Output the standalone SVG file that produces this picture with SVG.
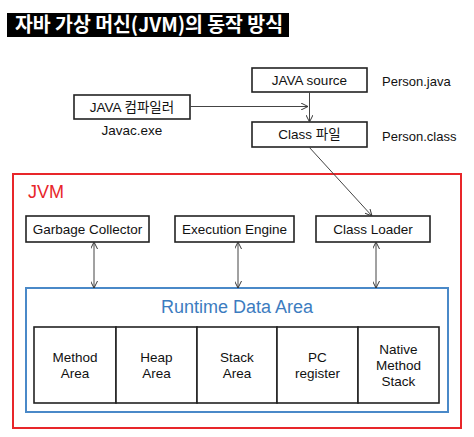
<svg xmlns="http://www.w3.org/2000/svg" width="474" height="437" viewBox="0 0 474 437">
<defs>
<marker id="ah" viewBox="0 0 10 10" refX="10" refY="5" markerWidth="7" markerHeight="7" orient="auto-start-reverse" markerUnits="userSpaceOnUse">
<path d="M0,0 L10,5 L0,10" fill="none" stroke="#333" stroke-width="1.4"/>
</marker>
<style>
text{font-family:"Liberation Sans","Noto Sans CJK KR",sans-serif;fill:#111}
.box{fill:#fff;stroke:#222;stroke-width:1.6}
.lbl{font-size:13.5px;text-anchor:middle}
.side{font-size:13px}
.cell{font-size:13.5px;text-anchor:middle}
.conn{stroke:#444;stroke-width:1;fill:none}
</style>
</defs>
<rect width="474" height="437" fill="#fff"/>
<g id="title">
<rect x="7" y="13" width="282" height="24" fill="#000"/>
<text x="15" y="32" textLength="268" lengthAdjust="spacingAndGlyphs" style="font-family:'Noto Sans CJK KR','Liberation Sans',sans-serif;font-size:20px;font-weight:bold;fill:#fff">자바 가상 머신(JVM)의 동작 방식</text>
</g>
<g id="jvm">
<rect x="13" y="174" width="448" height="254" fill="none" stroke="#e8262a" stroke-width="2"/>
<text x="28" y="198" style="font-size:18px;fill:#e8262a">JVM</text>
</g>
<g id="java-source">
<rect class="box" x="252" y="68" width="115" height="24"/>
<text class="lbl" x="309.5" y="85">JAVA source</text>
<text class="side" x="382" y="86">Person.java</text>
</g>
<g id="javac">
<rect class="box" x="74" y="95" width="116" height="24"/>
<text class="lbl" x="132" y="112">JAVA 컴파일러</text>
<text class="lbl" x="132" y="135">Javac.exe</text>
</g>
<g id="class-file">
<rect class="box" x="252" y="122" width="115" height="25"/>
<text class="lbl" x="309.5" y="139">Class 파일</text>
<text class="side" x="382" y="141">Person.class</text>
</g>
<g id="gc">
<rect class="box" x="26" y="216" width="123" height="26"/>
<text class="lbl" x="87.5" y="234">Garbage Collector</text>
</g>
<g id="exec">
<rect class="box" x="175" y="216" width="119" height="26"/>
<text class="lbl" x="234.5" y="234">Execution Engine</text>
</g>
<g id="loader">
<rect class="box" x="316" y="216" width="114" height="26"/>
<text class="lbl" x="373" y="234">Class Loader</text>
</g>
<g id="rda">
<rect x="26" y="288" width="422" height="124" fill="none" stroke="#4a89c8" stroke-width="2"/>
<text x="237" y="313" style="font-size:18px;fill:#3c7cc0" text-anchor="middle">Runtime Data Area</text>
</g>
<g id="method-area">
<rect class="box" x="34" y="327" width="82" height="76"/>
<text class="cell" x="75" y="362">Method</text>
<text class="cell" x="75" y="378">Area</text>
</g>
<g id="heap-area">
<rect class="box" x="116" y="327" width="81" height="76"/>
<text class="cell" x="156.5" y="362">Heap</text>
<text class="cell" x="156.5" y="378">Area</text>
</g>
<g id="stack-area">
<rect class="box" x="197" y="327" width="80" height="76"/>
<text class="cell" x="237" y="362">Stack</text>
<text class="cell" x="237" y="378">Area</text>
</g>
<g id="pc-register">
<rect class="box" x="277" y="327" width="81" height="76"/>
<text class="cell" x="317.5" y="362">PC</text>
<text class="cell" x="317.5" y="378">register</text>
</g>
<g id="native-stack">
<rect class="box" x="358" y="327" width="81" height="76"/>
<text class="cell" x="398.5" y="354">Native</text>
<text class="cell" x="398.5" y="370">Method</text>
<text class="cell" x="398.5" y="386">Stack</text>
</g>
<g id="connectors">
<line class="conn" x1="190" y1="106.5" x2="308" y2="106.5" marker-end="url(#ah)"/>
<line class="conn" x1="309.5" y1="92" x2="309.5" y2="122" marker-end="url(#ah)"/>
<line class="conn" x1="309" y1="147" x2="372" y2="216" marker-end="url(#ah)"/>
<line class="conn" x1="94" y1="242" x2="94" y2="288" marker-start="url(#ah)" marker-end="url(#ah)"/>
<line class="conn" x1="238" y1="242" x2="238" y2="288" marker-start="url(#ah)" marker-end="url(#ah)"/>
<line class="conn" x1="376" y1="242" x2="376" y2="288" marker-start="url(#ah)" marker-end="url(#ah)"/>
</g>
</svg>
